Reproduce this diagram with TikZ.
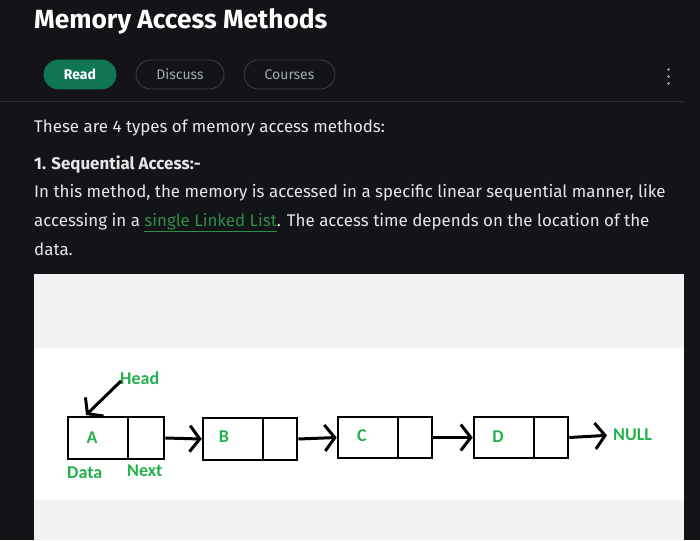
\documentclass[tikz,border=0pt]{standalone}
\usepackage{fontspec}
\setmainfont{Fira Sans}
\newfontfamily\paintfont{Carlito}
\usetikzlibrary{arrows.meta}
\definecolor{pagebg}{HTML}{131417}
\definecolor{rulecol}{HTML}{2A2C31}
\definecolor{readgreen}{HTML}{0F7552}
\definecolor{pillline}{HTML}{3E4147}
\definecolor{pilltext}{HTML}{A4A9B0}
\definecolor{bodytext}{HTML}{E6E7E9}
\definecolor{linkgreen}{HTML}{2F8D46}
\definecolor{figbg}{HTML}{F1F2F4}
\definecolor{paintgreen}{HTML}{22B14C}
\tikzset{
  body/.style={anchor=base west, inner sep=0pt, text=bodytext, font=\fontsize{16.9}{19}\selectfont},
  pill/.style={draw=pillline, line width=0.8pt, rounded corners=14.5pt, minimum height=29pt, inner sep=0pt, text=pilltext, font=\fontsize{14}{16}\selectfont},
  cell/.style={draw=black, line width=2.6pt, inner sep=0pt},
  lbl/.style={text=paintgreen, inner sep=0pt, font=\paintfont\bfseries\fontsize{18}{20}\selectfont},
  link/.style={draw=black, line width=3pt, -{Straight Barb[length=10pt,width=26pt]}},
}
\begin{document}
\begin{tikzpicture}[x=1pt,y=-1pt]
\useasboundingbox (0,0) rectangle (700,540);
\fill[pagebg] (0,0) rectangle (700,540);
% title
\node[anchor=base west, inner sep=0pt, text=white, font=\bfseries\fontsize{26.3}{28}\selectfont] (title) at (34,29) {Memory Access Methods};
% pills
\node[pill, fill=readgreen, draw=readgreen, minimum width=72pt, text=white, font=\bfseries\fontsize{14}{16}\selectfont] (read) at (80,74.5) {Read};
\node[pill, minimum width=88pt] (discuss) at (180,74.5) {Discuss};
\node[pill, minimum width=91pt] (courses) at (289.5,74.5) {Courses};
\foreach \yy in {69.5,76.5,83.5} \fill[pilltext] (668.5,\yy) circle (1.4pt);
\draw[rulecol, line width=1pt] (0,101.5) -- (684,101.5);
% body text
\node[body] (l1) at (34,133) {These are 4 types of memory access methods:};
\node[body, font=\bfseries\fontsize{16.9}{19}\selectfont] (l2) at (34,169) {1. Sequential Access:-};
\node[body] (l3) at (34,197) {In this method, the memory is accessed in a specific linear sequential manner, like};
\node[body] (l4) at (34,226) {accessing in a \textcolor{linkgreen}{\underline{single Linked List}}. The access time depends on the location of the};
\node[body] (l5) at (34,255) {data.};
% figure
\fill[figbg] (34,274) rectangle (684,540);
\fill[white] (34,348) rectangle (684,500);
% cells
\node[cell, minimum width=60pt, minimum height=42pt] (a1) at (98,438) {};
\node[cell, minimum width=36pt, minimum height=42pt] (a2) at (146,438) {};
\node[cell, minimum width=60pt, minimum height=42pt] (b1) at (233,439) {};
\node[cell, minimum width=34pt, minimum height=42pt] (b2) at (280,439) {};
\node[cell, minimum width=60pt, minimum height=41pt] (c1) at (368,437.5) {};
\node[cell, minimum width=34pt, minimum height=41pt] (c2) at (415,437.5) {};
\node[cell, minimum width=60pt, minimum height=41pt] (d1) at (504,437.5) {};
\node[cell, minimum width=34pt, minimum height=41pt] (d2) at (551,437.5) {};
\node[lbl] (ta) at (92,438) {A};
\node[lbl] (tb) at (224,437) {B};
\node[lbl] (tc) at (362,436) {C};
\node[lbl] (td) at (498,437) {D};
\node[lbl, anchor=west] (null) at (613,435) {NULL};
\node[lbl, anchor=west] (head) at (120,378) {Head};
\node[lbl, anchor=west] (data) at (67,473) {Data};
\node[lbl, anchor=west] (next) at (127,471) {Next};
\coordinate (hs) at (121,381);
\coordinate (he) at (86,415);
% links
\draw[link] (a2.east) -- (b1.west);
\draw[link] (b2.east) -- (c1.west);
\draw[link] (c2.east) -- (d1.west);
\draw[link, shorten >=6pt] (d2.east) -- (null.west);
\draw[link] (hs) -- (he);
\end{tikzpicture}
\end{document}
